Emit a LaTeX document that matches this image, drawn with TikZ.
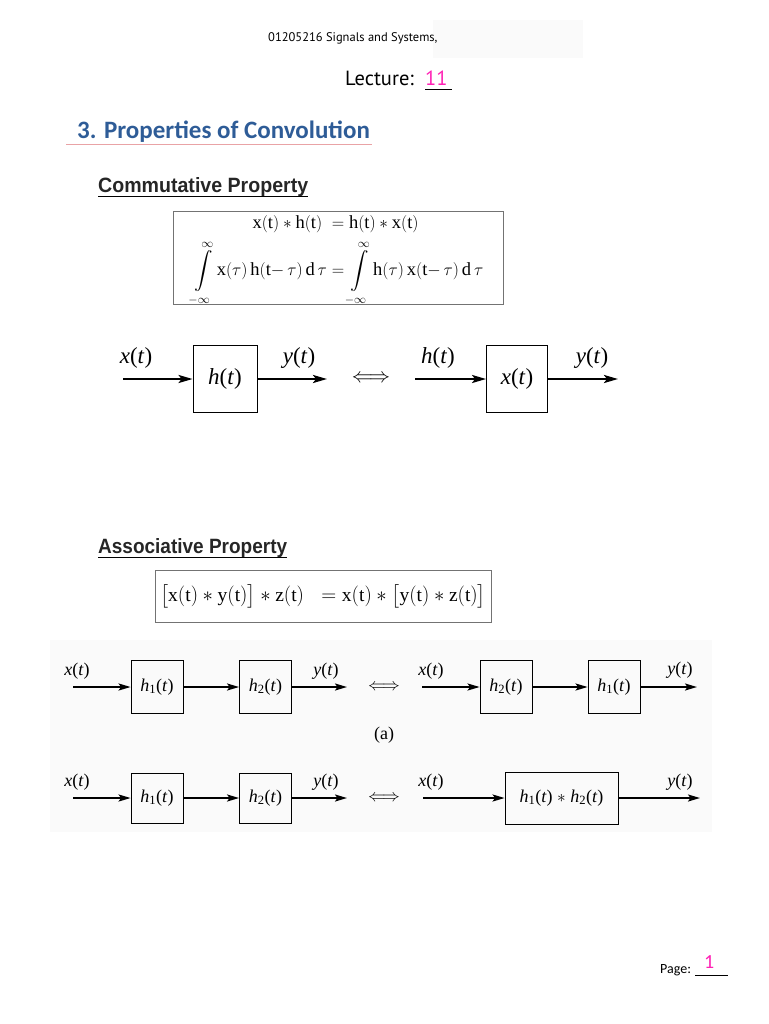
\documentclass[tikz,border=0pt]{standalone}
\usepackage{amsmath}
\usepackage{amssymb}
\usepackage{fontspec}
\setmainfont{Liberation Serif}
\newfontfamily\hdrfont{PT Sans}
\newfontfamily\calfont{Carlito}
\newfontfamily\heavyfont{Liberation Sans}
\usetikzlibrary{arrows.meta}
\definecolor{headblue}{HTML}{2E5C97}
\definecolor{pinkink}{HTML}{FF21B4}
\definecolor{rulered}{HTML}{E9A3A6}
\newcommand{\sg}[1]{\textit{#1}(\textit{t})}
\newcommand{\hs}[1]{\textit{h}\textsubscript{#1}(\textit{t})}

\begin{document}
\begin{tikzpicture}[x=1pt,y=-1pt,line cap=butt,line join=miter]
  \tikzset{blk/.style={draw,line width=0.9pt,minimum width=64pt,minimum height=67pt,inner sep=0pt,font=\fontsize{23}{25}\selectfont},
    blks/.style={draw,line width=0.8pt,minimum width=52pt,minimum height=53pt,inner sep=0pt,font=\fontsize{18}{20}\selectfont},
    sig/.style={-{Stealth[length=14pt,width=8pt,inset=3pt]},line width=2.2pt},
    sigs/.style={-{Stealth[length=12pt,width=7pt,inset=2.5pt]},line width=1.8pt},
    lbl/.style={inner sep=0pt,font=\fontsize{23}{25}\selectfont},
    lbls/.style={inner sep=0pt,font=\fontsize{18}{20}\selectfont},
    prop/.style={inner sep=0pt,text=black!85,font=\heavyfont\bfseries},
    eqbox/.style={draw=black!55,line width=0.8pt,inner sep=0pt}}

  \path[use as bounding box] (0,0) rectangle (768,1024);
  \fill[black!2] (50,640) rectangle (712,832);

  \fill[black!2] (433,20) rectangle (583,58);
  \node[anchor=west,inner sep=0pt,font=\hdrfont\fontsize{12.5}{15}\selectfont] (course) at (268,38) {01205216 Signals and Systems,};
  \node[anchor=base west,inner sep=0pt,font=\hdrfont\fontsize{20.5}{22}\selectfont] (lect) at (345,86) {Lecture:};
  \node[anchor=base west,inner sep=0pt,text=pinkink,font=\hdrfont\fontsize{20.5}{22}\selectfont] (lectno) at (425,86) {11};
  \draw[line width=0.9pt] (425,89) -- (452,89);

  \node[anchor=base west,inner sep=0pt,text=headblue,font=\calfont\bfseries\fontsize{25}{30}\selectfont] (title) at (77,139) {3. Properties of Convolution};
  \draw[rulered,line width=0.8pt] (66,144) -- (372,144);

  \node[prop,anchor=base west] (comm) at (98,193) {\resizebox{210pt}{15pt}{Commutative Property}};
  \draw[line width=1pt] (98,197) -- (308,197);

  \node[eqbox,minimum width=330pt,minimum height=93pt] (eqc) at (338,257.5) {};
  \node[inner sep=0pt,font=\fontsize{18.5}{22}\selectfont] (eqctext) at (338,259.5)
    {$\displaystyle\begin{aligned}
      \mathrm{x(t)}*\mathrm{h(t)}\; &= \mathrm{h(t)}*\mathrm{x(t)}\\[1pt]
      \int\limits_{-\infty}^{\infty}\mathrm{x}(\tau)\,\mathrm{h}(\mathrm{t}{-}\,\tau)\,\mathrm{d}\,\tau &= \int\limits_{-\infty}^{\infty}\mathrm{h}(\tau)\,\mathrm{x}(\mathrm{t}{-}\,\tau)\,\mathrm{d}\,\tau
    \end{aligned}$};

  \coordinate (x1) at (123,379);
  \node[blk] (hbox) at (225,379) {\sg{h}};
  \coordinate (y1) at (327,379);
  \draw[sig] (x1) -- (hbox);
  \draw[sig] (hbox) -- (y1);
  \node[lbl] (x1lab) at (136,358) {\sg{x}};
  \node[lbl] (y1lab) at (299,358) {\sg{y}};
  \node[inner sep=0pt,font=\fontsize{22}{24}\selectfont] (eq1) at (371,379) {$\Longleftrightarrow$};
  \coordinate (h2in) at (415,379);
  \node[blk,minimum width=61pt] (xbox) at (517,379) {\sg{x}};
  \coordinate (y2) at (618,379);
  \draw[sig] (h2in) -- (xbox);
  \draw[sig] (xbox) -- (y2);
  \node[lbl] (h2lab) at (438,358) {\sg{h}};
  \node[lbl] (y2lab) at (592,358) {\sg{y}};

  \node[prop,anchor=base west] (assoc) at (98,553) {\resizebox{189pt}{15pt}{Associative Property}};
  \draw[line width=1pt] (98,557) -- (287,557);

  \node[eqbox,minimum width=336pt,minimum height=52pt,font=\fontsize{19.5}{22}\selectfont] (eqa) at (323,596)
    {$\bigl[\mathrm{x(t)}*\mathrm{y(t)}\bigr]*\mathrm{z(t)}\;\;=\mathrm{x(t)}*\bigl[\mathrm{y(t)}*\mathrm{z(t)}\bigr]$};

  \coordinate (xa) at (73,687);
  \node[blks] (ha1) at (157,687) {\hs{1}};
  \node[blks] (ha2) at (265.5,687) {\hs{2}};
  \coordinate (ya) at (347,687);
  \draw[sigs] (xa) -- (ha1);
  \draw[sigs] (ha1) -- (ha2);
  \draw[sigs] (ha2) -- (ya);
  \node[lbls] (xalab) at (77,671) {\sg{x}};
  \node[lbls] (yalab) at (326,671) {\sg{y}};
  \node[inner sep=0pt,font=\fontsize{17}{20}\selectfont] (eqva) at (384,687) {$\Longleftrightarrow$};
  \coordinate (xa2) at (422,687);
  \node[blks] (hc2) at (506,687) {\hs{2}};
  \node[blks] (hc1) at (614,687) {\hs{1}};
  \coordinate (ya2) at (697,687);
  \draw[sigs] (xa2) -- (hc2);
  \draw[sigs] (hc2) -- (hc1);
  \draw[sigs] (hc1) -- (ya2);
  \node[lbls] (xa2lab) at (431,671) {\sg{x}};
  \node[lbls] (ya2lab) at (680,670) {\sg{y}};
  \node[lbls] (cap) at (384,735) {(a)};

  \coordinate (xb) at (73,798);
  \node[blks,minimum height=50pt] (hb1) at (157,798) {\hs{1}};
  \node[blks,minimum height=50pt] (hb2) at (265.5,798) {\hs{2}};
  \coordinate (yb) at (347,798);
  \draw[sigs] (xb) -- (hb1);
  \draw[sigs] (hb1) -- (hb2);
  \draw[sigs] (hb2) -- (yb);
  \node[lbls] (xblab) at (77,782) {\sg{x}};
  \node[lbls] (yblab) at (326,782) {\sg{y}};
  \node[inner sep=0pt,font=\fontsize{17}{20}\selectfont] (eqvb) at (384,798) {$\Longleftrightarrow$};
  \coordinate (xb2) at (423,798);
  \node[blks,minimum width=113pt,minimum height=52pt] (hab) at (561.5,798) {\hs{1} $*$ \hs{2}};
  \coordinate (yb2) at (700,798);
  \draw[sigs] (xb2) -- (hab);
  \draw[sigs] (hab) -- (yb2);
  \node[lbls] (xb2lab) at (431,782) {\sg{x}};
  \node[lbls] (yb2lab) at (680,782) {\sg{y}};

  \node[anchor=base west,inner sep=0pt,font=\calfont\fontsize{14}{16}\selectfont] (pg) at (660,973) {Page:};
  \node[anchor=base west,inner sep=0pt,text=pinkink,font=\calfont\fontsize{20}{22}\selectfont] (pgno) at (704,968) {1};
  \draw[line width=0.7pt] (695,975) -- (728,975);
\end{tikzpicture}
\end{document}
